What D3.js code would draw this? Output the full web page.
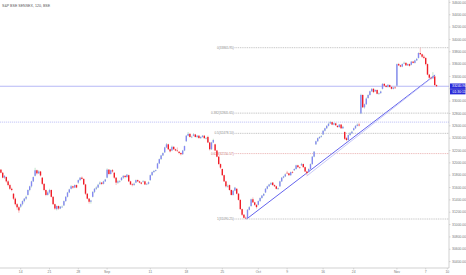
<!DOCTYPE html>
<html>
<head>
<meta charset="utf-8">
<script src="https://cdn.jsdelivr.net/npm/d3@7"></script>
<style>
    html, body { margin: 0; padding: 0; background: #fff; }
    svg { display: block; font-family: "Liberation Sans", Arial, sans-serif; }
</style>
</head>
<body>
<svg id="chart" width="466" height="275"></svg>
<script>
// S&P BSE SENSEX, свечи по 120 минут
const title = 'S&P BSE SENSEX, 120, BSE';

// торговые дни (19 окт. - короткая сессия, одна свеча)
const tradingDays = [
    '2017-08-09', '2017-08-10', '2017-08-11', '2017-08-14', '2017-08-16', '2017-08-17', '2017-08-18',
    '2017-08-21', '2017-08-22', '2017-08-23', '2017-08-24', '2017-08-28', '2017-08-29', '2017-08-30', '2017-08-31',
    '2017-09-01', '2017-09-04', '2017-09-05', '2017-09-06', '2017-09-07', '2017-09-08',
    '2017-09-11', '2017-09-12', '2017-09-13', '2017-09-14', '2017-09-15',
    '2017-09-18', '2017-09-19', '2017-09-20', '2017-09-21', '2017-09-22',
    '2017-09-25', '2017-09-26', '2017-09-27', '2017-09-28', '2017-09-29',
    '2017-10-03', '2017-10-04', '2017-10-05', '2017-10-06',
    '2017-10-09', '2017-10-10', '2017-10-11', '2017-10-12', '2017-10-13',
    '2017-10-16', '2017-10-17', '2017-10-18', '2017-10-19',
    '2017-10-23', '2017-10-24', '2017-10-25', '2017-10-26', '2017-10-27',
    '2017-10-30', '2017-10-31', '2017-11-01', '2017-11-02', '2017-11-03',
    '2017-11-06', '2017-11-07', '2017-11-08'
];
const shortSessions = ['2017-10-19'];
const futureDays = ['2017-11-09', '2017-11-10'];

// [open, high, low, close] по свечам каждого дня
const dayBars = [
    [[31930, 31950, 31870, 31890], [31890, 31900, 31830, 31840], [31840, 31850, 31750, 31760], [31760, 31800, 31740, 31790]],
    [[31770, 31780, 31680, 31700], [31700, 31720, 31620, 31640], [31640, 31660, 31560, 31580], [31580, 31600, 31540, 31560]],
    [[31500, 31510, 31400, 31420], [31420, 31440, 31310, 31330], [31330, 31350, 31240, 31280], [31280, 31300, 31190, 31230]],
    [[31290, 31340, 31270, 31330], [31330, 31390, 31310, 31380], [31380, 31430, 31360, 31420], [31420, 31470, 31400, 31450]],
    [[31480, 31570, 31470, 31560], [31560, 31630, 31540, 31620], [31620, 31710, 31600, 31700], [31700, 31780, 31690, 31770]],
    [[31790, 31920, 31780, 31880], [31880, 31890, 31810, 31830], [31830, 31880, 31820, 31860], [31860, 31870, 31780, 31795]],
    [[31760, 31770, 31640, 31660], [31660, 31670, 31540, 31560], [31560, 31570, 31460, 31480], [31480, 31540, 31470, 31520]],
    [[31520, 31580, 31500, 31560], [31560, 31570, 31440, 31450], [31450, 31460, 31320, 31330], [31330, 31340, 31240, 31260]],
    [[31250, 31310, 31230, 31300], [31300, 31310, 31240, 31260], [31260, 31300, 31250, 31290], [31290, 31310, 31270, 31290]],
    [[31310, 31390, 31300, 31380], [31380, 31460, 31370, 31450], [31450, 31530, 31440, 31520], [31520, 31580, 31510, 31570]],
    [[31580, 31640, 31570, 31620], [31620, 31630, 31580, 31600], [31600, 31650, 31590, 31640], [31640, 31650, 31590, 31600]],
    [[31680, 31730, 31660, 31720], [31720, 31770, 31710, 31760], [31760, 31780, 31730, 31740], [31740, 31750, 31640, 31650]],
    [[31650, 31660, 31480, 31500], [31500, 31510, 31410, 31420], [31420, 31430, 31340, 31370], [31370, 31400, 31340, 31390]],
    [[31450, 31540, 31440, 31530], [31530, 31590, 31510, 31580], [31580, 31620, 31560, 31600], [31600, 31660, 31590, 31646]],
    [[31660, 31700, 31640, 31680], [31680, 31690, 31640, 31660], [31660, 31710, 31650, 31700], [31700, 31740, 31690, 31730]],
    [[31760, 31910, 31750, 31890], [31890, 31900, 31800, 31820], [31820, 31890, 31810, 31880], [31880, 31900, 31840, 31860]],
    [[31840, 31850, 31740, 31760], [31760, 31770, 31640, 31680], [31680, 31720, 31660, 31700], [31700, 31720, 31680, 31702]],
    [[31720, 31770, 31710, 31760], [31760, 31800, 31740, 31790], [31790, 31800, 31750, 31770], [31770, 31820, 31760, 31809]],
    [[31800, 31810, 31690, 31700], [31700, 31710, 31640, 31650], [31650, 31670, 31620, 31640], [31640, 31680, 31630, 31662]],
    [[31680, 31730, 31670, 31720], [31720, 31730, 31690, 31700], [31700, 31710, 31670, 31680], [31680, 31690, 31650, 31663]],
    [[31690, 31720, 31680, 31700], [31700, 31710, 31640, 31650], [31650, 31670, 31640, 31660], [31660, 31700, 31650, 31687]],
    [[31720, 31810, 31710, 31800], [31800, 31860, 31790, 31850], [31850, 31880, 31840, 31870], [31870, 31890, 31860, 31883]],
    [[31910, 32000, 31900, 31990], [31990, 32070, 31980, 32060], [32060, 32130, 32050, 32120], [32120, 32170, 32110, 32159]],
    [[32170, 32260, 32160, 32250], [32250, 32320, 32240, 32300], [32300, 32310, 32210, 32220], [32220, 32230, 32170, 32186]],
    [[32200, 32280, 32190, 32260], [32260, 32270, 32210, 32220], [32220, 32230, 32190, 32200], [32200, 32250, 32180, 32190]],
    [[32180, 32190, 32140, 32160], [32160, 32170, 32120, 32140], [32140, 32210, 32130, 32200], [32200, 32280, 32190, 32272]],
    [[32350, 32450, 32340, 32440], [32440, 32500, 32430, 32470], [32470, 32480, 32410, 32420], [32420, 32440, 32400, 32423]],
    [[32440, 32480, 32430, 32460], [32460, 32470, 32410, 32420], [32420, 32450, 32400, 32440], [32440, 32450, 32390, 32402]],
    [[32400, 32430, 32390, 32420], [32420, 32450, 32410, 32440], [32440, 32450, 32390, 32400], [32400, 32420, 32380, 32400]],
    [[32420, 32440, 32320, 32330], [32330, 32340, 32200, 32220], [32220, 32340, 32210, 32330], [32330, 32390, 32320, 32370]],
    [[32300, 32310, 32190, 32200], [32200, 32210, 32090, 32100], [32100, 32110, 31970, 31980], [31980, 31990, 31900, 31922]],
    [[31900, 31910, 31790, 31800], [31800, 31810, 31690, 31700], [31700, 31710, 31600, 31620], [31620, 31650, 31600, 31626]],
    [[31640, 31650, 31550, 31560], [31560, 31570, 31470, 31480], [31480, 31560, 31470, 31550], [31550, 31610, 31540, 31599]],
    [[31580, 31590, 31490, 31500], [31500, 31510, 31390, 31400], [31400, 31410, 31240, 31250], [31250, 31260, 31140, 31159]],
    [[31160, 31170, 31100, 31110], [31110, 31130, 31090.25, 31100], [31100, 31250, 31095, 31240], [31240, 31300, 31230, 31282]],
    [[31300, 31420, 31290, 31410], [31410, 31440, 31350, 31360], [31360, 31370, 31300, 31320], [31320, 31330, 31260, 31283]],
    [[31320, 31390, 31310, 31380], [31380, 31440, 31370, 31430], [31430, 31480, 31420, 31470], [31470, 31510, 31460, 31497]],
    [[31520, 31590, 31510, 31580], [31580, 31630, 31570, 31620], [31620, 31660, 31610, 31650], [31650, 31690, 31640, 31671]],
    [[31680, 31690, 31630, 31640], [31640, 31650, 31610, 31620], [31620, 31630, 31570, 31580], [31580, 31600, 31560, 31592]],
    [[31620, 31710, 31610, 31700], [31700, 31770, 31690, 31760], [31760, 31790, 31750, 31780], [31780, 31830, 31770, 31814]],
    [[31840, 31870, 31820, 31830], [31830, 31840, 31790, 31800], [31800, 31860, 31790, 31850], [31850, 31870, 31830, 31846]],
    [[31880, 31910, 31870, 31900], [31900, 31970, 31890, 31960], [31960, 31970, 31920, 31930], [31930, 31940, 31900, 31924]],
    [[31960, 32000, 31950, 31980], [31980, 31990, 31920, 31930], [31930, 31940, 31850, 31860], [31860, 31870, 31800, 31834]],
    [[31850, 31910, 31840, 31900], [31900, 31990, 31890, 31980], [31980, 32110, 31970, 32100], [32100, 32190, 32090, 32182]],
    [[32300, 32360, 32290, 32350], [32350, 32410, 32340, 32400], [32400, 32430, 32390, 32420], [32420, 32450, 32410, 32432]],
    [[32460, 32530, 32450, 32520], [32520, 32570, 32510, 32560], [32560, 32610, 32550, 32600], [32600, 32650, 32590, 32633]],
    [[32640, 32680, 32630, 32660], [32660, 32670, 32610, 32620], [32620, 32650, 32610, 32640], [32640, 32650, 32600, 32609]],
    [[32600, 32610, 32570, 32580], [32580, 32630, 32570, 32620], [32620, 32630, 32550, 32560], [32560, 32600, 32550, 32584]],
    [[32500, 32510, 32370, 32390]],
    [[32400, 32420, 32350, 32370], [32370, 32460, 32360, 32450], [32450, 32500, 32440, 32480], [32480, 32520, 32470, 32506]],
    [[32530, 32570, 32520, 32560], [32560, 32610, 32550, 32600], [32600, 32640, 32590, 32620], [32620, 32650, 32590, 32607]],
    [[32800, 33120, 32790, 33100], [33100, 33110, 32890, 32900], [32900, 32960, 32880, 32950], [32950, 33060, 32940, 33042]],
    [[33050, 33110, 33040, 33100], [33100, 33170, 33090, 33160], [33160, 33210, 33150, 33200], [33200, 33210, 33130, 33147]],
    [[33160, 33190, 33150, 33180], [33180, 33190, 33110, 33120], [33120, 33140, 33100, 33130], [33130, 33170, 33120, 33157]],
    [[33200, 33290, 33190, 33280], [33280, 33290, 33240, 33250], [33250, 33260, 33220, 33230], [33230, 33270, 33220, 33266]],
    [[33260, 33270, 33220, 33230], [33230, 33240, 33190, 33200], [33200, 33230, 33190, 33220], [33220, 33240, 33200, 33213]],
    [[33250, 33610, 33240, 33600], [33600, 33620, 33570, 33580], [33580, 33590, 33550, 33560], [33560, 33610, 33550, 33600]],
    [[33610, 33640, 33600, 33620], [33620, 33630, 33570, 33580], [33580, 33610, 33570, 33600], [33600, 33610, 33560, 33573]],
    [[33590, 33650, 33580, 33640], [33640, 33650, 33610, 33620], [33620, 33670, 33610, 33660], [33660, 33700, 33650, 33685]],
    [[33700, 33790, 33690, 33780], [33780, 33865.95, 33750, 33760], [33760, 33770, 33700, 33720], [33720, 33750, 33680, 33700]],
    [[33700, 33710, 33580, 33600], [33600, 33610, 33420, 33430], [33430, 33440, 33360, 33380], [33380, 33400, 33350, 33370]],
    [[33370, 33470, 33360, 33400], [33400, 33410, 33250, 33260], [33260, 33270, 33230, 33240.90]]
];

// подписи осей
const yTickValues = [30400, 30600, 30800, 31000, 31200, 31400, 31600, 31800, 32000, 32200, 32400,
    32600, 32800, 33000, 33200, 33400, 33600, 33800, 34000, 34200, 34400, 34600];
const xTicks = [
    ['2017-08-14', '14'], ['2017-08-21', '21'], ['2017-08-28', '28'], ['2017-09-01', 'Sep'],
    ['2017-09-11', '11'], ['2017-09-18', '18'], ['2017-09-25', '25'], ['2017-10-03', 'Oct'],
    ['2017-10-09', '9'], ['2017-10-16', '16'], ['2017-10-24', '24'], ['2017-11-01', 'Nov'],
    ['2017-11-07', '7'], ['2017-11-10', '10']
];

// уровни Фибоначчи
const fibLevels = [
    ['0', 33865.95], ['0.382', 32805.65], ['0.5', 32478.10], ['0.618', 32150.57], ['1', 31090.25]
];
// горизонтальные линии
const hLines = [
    { price: 33240.90, dash: null },
    { price: 32660, dash: '1.2,0.8' }
];
// трендовые линии: [день, номер свечи, цена]
const trendLines = [
    { from: ['2017-09-28', 1.5, 31090.25], to: ['2017-11-08', 1.2, 33424], color: '#6464ee', width: 1 },
    { from: ['2017-10-11', 2.9, 31787], to: ['2017-11-08', 0, 33391], color: '#babcf5', width: 0.8 }
];
const lastPrice = 33240.90;
const countdown = '01:30:11';

// Размеры
const W = 466, H = 275;
const axisX = 449, axisY = 268;

// индекс свечи от начала
const allDays = tradingDays.concat(futureDays);
const dayStart = {};
let slot = 0;
allDays.forEach(d => {
    dayStart[d] = slot;
    slot += shortSessions.includes(d) ? 1 : 4;
});
const barIndex = (d, k) => dayStart[d] + k;

const bars = [];
tradingDays.forEach((d, i) => {
    dayBars[i].forEach((b, k) => {
        bars.push({ i: barIndex(d, k), o: b[0], h: b[1], l: b[2], c: b[3] });
    });
});

const x = d3.scaleLinear().domain([0, 250]).range([-0.9, 449.1]);
const y = d3.scaleLinear().domain([31090.25, 33865.95]).range([219, 47.7]);

const svg = d3.select('#chart');

svg.append('defs').append('clipPath').attr('id', 'plot-clip')
    .append('rect').attr('x', 0).attr('y', 0).attr('width', axisX).attr('height', axisY);

const plot = svg.append('g').attr('clip-path', 'url(#plot-clip)');

// горизонтальные линии
plot.selectAll('.hline')
    .data(hLines)
    .enter()
    .append('line')
    .attr('class', 'hline')
    .attr('x1', 0)
    .attr('x2', axisX)
    .attr('y1', d => y(d.price))
    .attr('y2', d => y(d.price))
    .attr('stroke', '#b6b8f6')
    .attr('stroke-width', d => d.dash ? 0.8 : 1.2)
    .attr('stroke-dasharray', d => d.dash);

// Фибоначчи
const fibX = 234.5;
plot.selectAll('.fib')
    .data(fibLevels)
    .enter()
    .append('line')
    .attr('class', 'fib')
    .attr('x1', fibX)
    .attr('x2', axisX)
    .attr('y1', d => y(d[1]))
    .attr('y2', d => y(d[1]))
    .attr('stroke', d => d[0] === '0.618' ? '#e49a9a' : '#a8a8a8')
    .attr('stroke-width', 0.7)
    .attr('stroke-dasharray', '1,0.8');

plot.selectAll('.fib-label')
    .data(fibLevels)
    .enter()
    .append('text')
    .attr('class', 'fib-label')
    .attr('x', fibX - 0.8)
    .attr('y', d => y(d[1]))
    .attr('dy', '0.35em')
    .attr('text-anchor', 'end')
    .attr('font-size', 3.1)
    .attr('fill', d => d[0] === '0.618' ? '#c86a6a' : '#8a8a8a')
    .text(d => `${d[0]}(${d[1].toFixed(2)})`);

// трендовые линии
plot.selectAll('.trend')
    .data(trendLines)
    .enter()
    .append('line')
    .attr('class', 'trend')
    .attr('x1', d => x(barIndex(d.from[0], d.from[1])))
    .attr('y1', d => y(d.from[2]))
    .attr('x2', d => x(barIndex(d.to[0], d.to[1])))
    .attr('y2', d => y(d.to[2]))
    .attr('stroke', d => d.color)
    .attr('stroke-width', d => d.width);

// свечи
const candles = plot.selectAll('.candle')
    .data(bars)
    .enter()
    .append('g')
    .attr('class', 'candle');

candles.append('line')
    .attr('x1', d => x(d.i))
    .attr('x2', d => x(d.i))
    .attr('y1', d => y(d.h))
    .attr('y2', d => y(d.l))
    .attr('stroke', d => d.c >= d.o ? '#a9d9b6' : '#f4a3a6')
    .attr('stroke-width', 0.7);

candles.append('rect')
    .attr('x', d => x(d.i) - 0.7)
    .attr('width', 1.4)
    .attr('y', d => y(Math.max(d.o, d.c)))
    .attr('height', d => Math.max(0.6, Math.abs(y(d.o) - y(d.c))))
    .attr('fill', d => d.c >= d.o ? '#8589f2' : '#f01e28');

// ось цен
const yAxis = svg.append('g');
yAxis.append('line')
    .attr('x1', axisX).attr('x2', axisX)
    .attr('y1', 0).attr('y2', axisY)
    .attr('stroke', '#b4b4b4').attr('stroke-width', 0.6);

yAxis.selectAll('.ytick')
    .data(yTickValues)
    .enter()
    .append('line')
    .attr('x1', axisX).attr('x2', axisX + 1.5)
    .attr('y1', d => y(d)).attr('y2', d => y(d))
    .attr('stroke', '#b4b4b4').attr('stroke-width', 0.5);

yAxis.selectAll('.ylabel')
    .data(yTickValues)
    .enter()
    .append('text')
    .attr('x', 452)
    .attr('y', d => y(d))
    .attr('dy', '0.35em')
    .attr('font-size', 3.4)
    .attr('fill', '#777')
    .text(d => d3.format('.2f')(d));

// метки последней цены
const priceBox = svg.append('g');
priceBox.append('rect')
    .attr('x', 450).attr('y', y(lastPrice) - 2.8)
    .attr('width', 15.5).attr('height', 5.4)
    .attr('fill', '#2a2ad8');
priceBox.append('text')
    .attr('x', 452).attr('y', y(lastPrice))
    .attr('dy', '0.35em')
    .attr('font-size', 3.4).attr('fill', '#fff')
    .text(lastPrice.toFixed(2));
priceBox.append('rect')
    .attr('x', 450).attr('y', y(lastPrice) + 2.9)
    .attr('width', 15.5).attr('height', 5.2)
    .attr('fill', '#2a2ad8');
priceBox.append('text')
    .attr('x', 452.6).attr('y', y(lastPrice) + 5.5)
    .attr('dy', '0.35em')
    .attr('font-size', 3.4).attr('fill', '#fff')
    .text(countdown);

// ось времени
const xAxis = svg.append('g');
xAxis.append('line')
    .attr('x1', 0).attr('x2', axisX)
    .attr('y1', axisY).attr('y2', axisY)
    .attr('stroke', '#b4b4b4').attr('stroke-width', 0.6);

xAxis.selectAll('.xtick')
    .data(xTicks)
    .enter()
    .append('line')
    .attr('x1', d => x(barIndex(d[0], 0)))
    .attr('x2', d => x(barIndex(d[0], 0)))
    .attr('y1', axisY).attr('y2', axisY + 1.5)
    .attr('stroke', '#b4b4b4').attr('stroke-width', 0.5);

xAxis.selectAll('.xlabel')
    .data(xTicks)
    .enter()
    .append('text')
    .attr('x', d => x(barIndex(d[0], 0)))
    .attr('y', 273.3)
    .attr('text-anchor', 'middle')
    .attr('font-size', 3.4)
    .attr('fill', '#777')
    .text(d => d[1]);

// заголовок
svg.append('text')
    .attr('x', 2)
    .attr('y', 6.5)
    .attr('font-size', 3.6)
    .attr('fill', '#555')
    .text(title);
</script>
</body>
</html>
